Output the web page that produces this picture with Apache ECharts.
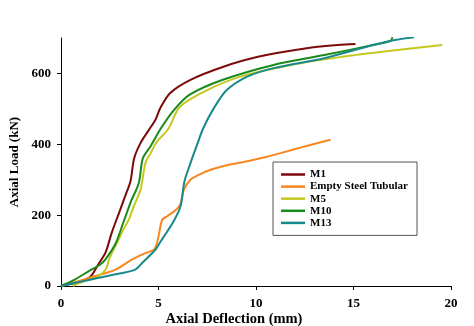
<!DOCTYPE html>
<html>
<head>
<meta charset="utf-8">
<script src="https://cdn.jsdelivr.net/npm/echarts@6/dist/echarts.min.js"></script>
<style>html,body{margin:0;padding:0;background:#fff}#c{width:474px;height:326px}</style>
</head>
<body>
<div id="c"></div>
<script>
var seriesNames = ['M1', 'Empty Steel Tubular', 'M5', 'M10', 'M13'];
var xTicks = [0, 5, 10, 15, 20];
var yTicks = [0, 200, 400, 600];

var m1 = [[0,0],[0.8,10],[1.4,22],[1.6,32],[1.9,60],[2.28,94],[2.6,150],[3.0,210],[3.3,255],[3.56,295],[3.75,360],[4.08,404],[4.5,440],[4.85,470],[5.1,503],[5.6,545],[6.64,582],[8.33,619],[10.1,647],[12.6,671],[14.2,680],[15.1,683]];
var empty = [[0,0],[0.8,12],[1.43,23],[2.0,32],[2.8,46],[3.65,75],[4.3,92],[4.8,105],[5.0,140],[5.19,187],[5.45,197],[5.9,215],[6.13,232],[6.3,272],[6.64,300],[7.0,312],[7.67,328],[8.5,341],[9.55,352],[10.5,364],[11.26,375],[12.5,394],[13.82,413]];
var m5 = [[0.6,0],[1.1,12],[1.77,23],[2.28,46],[2.5,80],[2.9,125],[3.2,159],[3.5,190],[3.73,225],[4.08,272],[4.33,347],[4.6,375],[4.93,408],[5.5,443],[6.1,506],[7.5,553],[9.2,591],[11.8,624],[14.3,646],[16.9,664],[19.55,680]];
var m10 = [[0,0],[0.7,18],[1.43,42],[2.0,60],[2.28,75],[2.8,120],[3.2,180],[3.6,240],[3.99,291],[4.2,361],[4.6,395],[5.1,443],[5.8,497],[6.6,540],[8.3,582],[10.9,624],[13.5,652],[16.0,680],[16.9,692],[17.0,702]];
var m13 = [[0,0],[1.0,12],[1.94,23],[3.0,35],[3.8,46],[4.25,70],[4.85,103],[5.1,125],[5.45,154],[5.8,185],[6.13,225],[6.33,295],[6.64,347],[6.98,399],[7.3,446],[7.84,502],[8.5,553],[9.55,591],[10.9,615],[13.5,643],[16.0,680],[17.2,695],[18.1,702]];

var colors = ['#7d0a0a', '#f7871e', '#c4c81e', '#1a8a1a', '#18898c'];
var datasets = [m1, empty, m5, m10, m13];
var serif = 'Liberation Serif';

var chart = echarts.init(document.getElementById('c'));
chart.setOption({
  animation: false,
  grid: {left: 61, right: 23, top: 38, bottom: 40, outerBoundsMode: 'none', containLabel: false},
  legend: {
    orient: 'vertical', left: 273, top: 162,
    padding: [7, 9, 7, 8],
    icon: 'rect',
    itemWidth: 24, itemHeight: 2.5, itemGap: 1.1,
    borderColor: '#555', borderWidth: 1,
    textStyle: {fontFamily: serif, fontWeight: 'bold', fontSize: 11, color: '#000'},
    data: seriesNames
  },
  xAxis: {
    type: 'value', min: 0, max: 20, interval: 5,
    name: 'Axial Deflection (mm)', nameLocation: 'middle', nameGap: 26, nameMoveOverlap: false,
    nameTextStyle: {fontFamily: serif, fontWeight: 'bold', fontSize: 14.5, color: '#000', padding: [0, 44, 0, 0]},
    axisLine: {lineStyle: {color: '#000', width: 1}},
    axisTick: {show: true, length: 4, lineStyle: {color: '#000'}},
    axisLabel: {fontFamily: serif, fontWeight: 'bold', fontSize: 13, color: '#000', margin: 11},
    splitLine: {show: false}
  },
  yAxis: {
    type: 'value', min: 0, max: 700,
    name: 'Axial Load (kN)', nameLocation: 'middle', nameGap: 40, nameMoveOverlap: false,
    nameTextStyle: {fontFamily: serif, fontWeight: 'bold', fontSize: 13, color: '#000'},
    axisLine: {show: true, lineStyle: {color: '#000', width: 1}},
    axisTick: {show: true, length: 4, lineStyle: {color: '#000'}, customValues: yTicks},
    axisLabel: {fontFamily: serif, fontWeight: 'bold', fontSize: 13, color: '#000', margin: 10, customValues: yTicks},
    splitLine: {show: false}
  },
  series: seriesNames.map(function (n, i) {
    return {
      name: n, type: 'line', data: datasets[i], symbol: 'none', smooth: 0.3,
      lineStyle: {color: colors[i], width: 2}, itemStyle: {color: colors[i]}
    };
  })
});
</script>
</body>
</html>
